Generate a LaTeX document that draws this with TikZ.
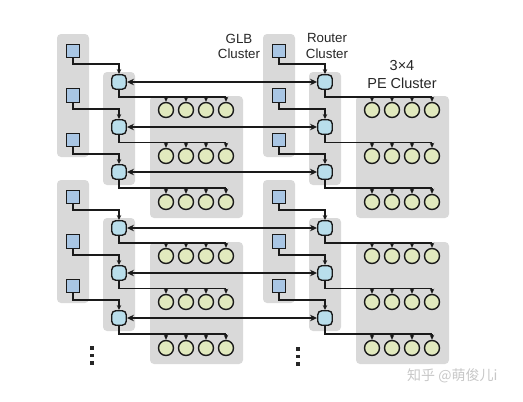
\documentclass[tikz,border=0pt]{standalone}
\usepackage{fontspec}
\setmainfont{Liberation Sans}
\newfontfamily\cjkfont{Noto Sans CJK SC}
\usetikzlibrary{arrows.meta}
\definecolor{panel}{HTML}{D9D9D9}
\definecolor{glbfill}{HTML}{A9C6E4}
\definecolor{rtfill}{HTML}{B9DEEB}
\definecolor{pefill}{HTML}{E1E9BE}
\definecolor{edge}{HTML}{1A1A1A}
\begin{document}
\begin{tikzpicture}[x=1pt,y=-1pt,
  panelbox/.style={fill=panel, rounded corners=4pt},
  glb/.style={draw=edge, line width=1.4pt, fill=glbfill, minimum size=13.5pt, inner sep=0pt},
  router/.style={draw=edge, line width=1.4pt, fill=rtfill, minimum size=14.5pt, inner sep=0pt, rounded corners=4pt},
  pe/.style={circle, draw=edge, line width=1.4pt, fill=pefill, minimum size=15pt, inner sep=0pt},
  conn/.style={draw=edge, line width=1.4pt},
  tip/.style={-{Stealth[length=5pt,width=4.5pt]}},
  bidir/.style={draw=edge, line width=2.2pt, {Stealth[length=7pt,width=6.5pt]}-{Stealth[length=7pt,width=6.5pt]}},
  lbl/.style={align=center, font=\fontsize{13.3}{15.5}\selectfont, text=black!85},
  dotsq/.style={fill=black!85}
]
\useasboundingbox (0,0) rectangle (523,402);
\foreach \g/\ox/\oy in {a/0/0,b/206/0,c/0/146,d/206/146} {
  \fill[panelbox] (\ox+57,\oy+34) rectangle (\ox+89,\oy+157);
  \fill[panelbox] (\ox+103,\oy+72) rectangle (\ox+135,\oy+185);
  \fill[panelbox] (\ox+150,\oy+96) rectangle (\ox+243,\oy+218);
  \foreach \i in {0,1,2} {
    \node[glb] (\g s\i) at (\ox+73,\oy+51+44.5*\i) {};
    \node[router] (\g r\i) at (\ox+119,\oy+82+45*\i) {};
    \coordinate (\g k\i) at (\ox+119,\oy+64+45*\i);
    \foreach \j in {1,2,3,4} {
      \node[pe] (\g p\i\j) at (\ox+146+20*\j,\oy+110+46*\i) {};
    }
    \coordinate (\g e\i) at (\ox+226,\oy+97+45.5*\i);
    \draw[conn,tip] (\g s\i.south) |- (\g k\i) -- (\g r\i.north);
    \draw[conn] (\g r\i.south) |- (\g e\i);
    \foreach \j in {1,2,3,4} {
      \draw[conn,tip] (\g p\i\j |- \g e\i) -- (\g p\i\j.north);
    }
  }
}
\foreach \i in {0,1,2} {
  \draw[bidir] (ar\i.east) -- (br\i.west);
  \draw[bidir] (cr\i.east) -- (dr\i.west);
}
\node[lbl] (glblbl) at (239,46.5) {GLB\\Cluster};
\node[lbl] (rtlbl) at (327,46) {Router\\Cluster};
\node[lbl, font=\fontsize{14.5}{17.5}\selectfont] (pelbl) at (402,74.5) {3×4\\PE Cluster};
\foreach \x/\y in {92/348,298/349} {
  \fill[dotsq] (\x-1.8,\y-1.8) rectangle (\x+1.8,\y+1.8);
  \fill[dotsq] (\x-1.8,\y+5.7) rectangle (\x+1.8,\y+9.3);
  \fill[dotsq] (\x-1.8,\y+13.2) rectangle (\x+1.8,\y+16.8);
}
\node[text=black!22, font=\cjkfont\fontsize{14}{16}\selectfont, anchor=west, inner sep=0pt] (wm) at (407,376) {知乎 @萌俊儿i};
\end{tikzpicture}
\end{document}
